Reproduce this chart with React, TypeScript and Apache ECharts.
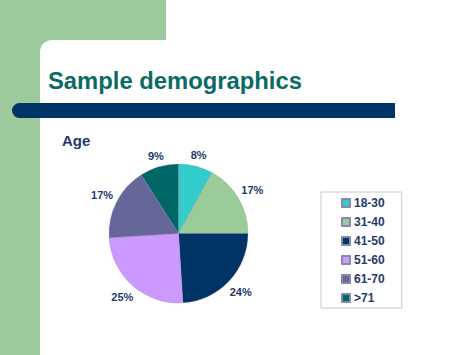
import React, { useEffect, useRef } from "react";
import * as echarts from "echarts";

const categories = ["18-30", "31-40", "41-50", "51-60", "61-70", ">71"];
const values = [8, 17, 24, 25, 17, 9];
const colors = ["#33CCCC", "#99CC99", "#003366", "#CC99FF", "#666699", "#006666"];
const title = "Sample demographics";
const subtitle = "Age";

const CX = 178.5;
const CY = 233.5;
const R = 69.5;
const LABEL_GAP = 4;

export default function App() {
  const ref = useRef<HTMLDivElement>(null);
  useEffect(() => {
    document.body.style.margin = "0";
    const chart = echarts.init(ref.current!, null, { renderer: "svg" });
    const total = values.reduce((a, b) => a + b, 0);
    const data = categories.map((name, i) => ({
      name,
      value: values[i],
      itemStyle: { color: colors[i] },
    }));
    const labelLayout = (p: any) => {
      const i = p.dataIndex;
      let before = 0;
      for (let k = 0; k < i; k++) before += values[k];
      const midFrac = (before + values[i] / 2) / total;
      const ang = Math.PI / 2 - midFrac * Math.PI * 2;
      const dx = Math.cos(ang);
      const dy = -Math.sin(ang);
      const w = p.labelRect.width;
      const h = p.labelRect.height;
      const d = R + LABEL_GAP + Math.abs(dx) * w / 2 + Math.abs(dy) * h / 2;
      return { x: CX + dx * d, y: CY + dy * d, align: "center", verticalAlign: "middle" };
    };
    chart.setOption({
      animation: false,
      backgroundColor: "#ffffff",
      graphic: [
        { type: "rect", shape: { x: 0, y: 0, width: 166, height: 60 }, style: { fill: "#9DCB9D" }, z: 0 },
        { type: "rect", shape: { x: 0, y: 0, width: 60, height: 355 }, style: { fill: "#9DCB9D" }, z: 0 },
        { type: "rect", shape: { x: 40, y: 40, width: 434, height: 315, r: [12, 0, 0, 0] }, style: { fill: "#ffffff" }, z: 1 },
        { type: "rect", shape: { x: 12, y: 103, width: 383, height: 15, r: [7.5, 0, 0, 7.5] }, style: { fill: "#003366" }, z: 2 },
        {
          type: "text", x: 48, y: 80.5, z: 3,
          style: { text: title, fill: "#0B6B64", font: "bold 23.8px 'Liberation Sans', Arial, sans-serif", verticalAlign: "middle" },
        },
        {
          type: "text", x: 62, y: 140, z: 3,
          style: { text: subtitle, fill: "#1F3A6B", font: "bold 15px 'Liberation Sans', Arial, sans-serif", verticalAlign: "middle" },
        },
      ],
      legend: {
        orient: "vertical",
        left: 321,
        top: 192,
        data: categories,
        icon: "rect",
        itemWidth: 8,
        itemHeight: 8,
        itemGap: 7,
        padding: [5, 17, 4, 20],
        borderColor: "#C8C8C8",
        borderWidth: 1,
        textStyle: { fontFamily: "'Liberation Sans', Arial, sans-serif", fontWeight: "bold", fontSize: 12, color: "#1F3A6B", padding: [0, 0, 0, -1] },
        selectedMode: false,
      },
      series: [
        {
          type: "pie",
          center: [CX, CY],
          radius: R,
          startAngle: 90,
          clockwise: true,
          silent: true,
          avoidLabelOverlap: false,
          label: {
            show: true,
            position: "outside",
            formatter: "{c}%",
            fontFamily: "'Liberation Sans', Arial, sans-serif",
            fontWeight: "bold",
            fontSize: 11,
            color: "#1F3A6B",
          },
          labelLine: { show: false },
          labelLayout,
          itemStyle: { borderColor: "#8888aa", borderWidth: 0.3 },
          data,
          z: 5,
        },
      ],
    });
    return () => chart.dispose();
  }, []);
  return <div ref={ref} style={{ width: 474, height: 355 }} />;
}
